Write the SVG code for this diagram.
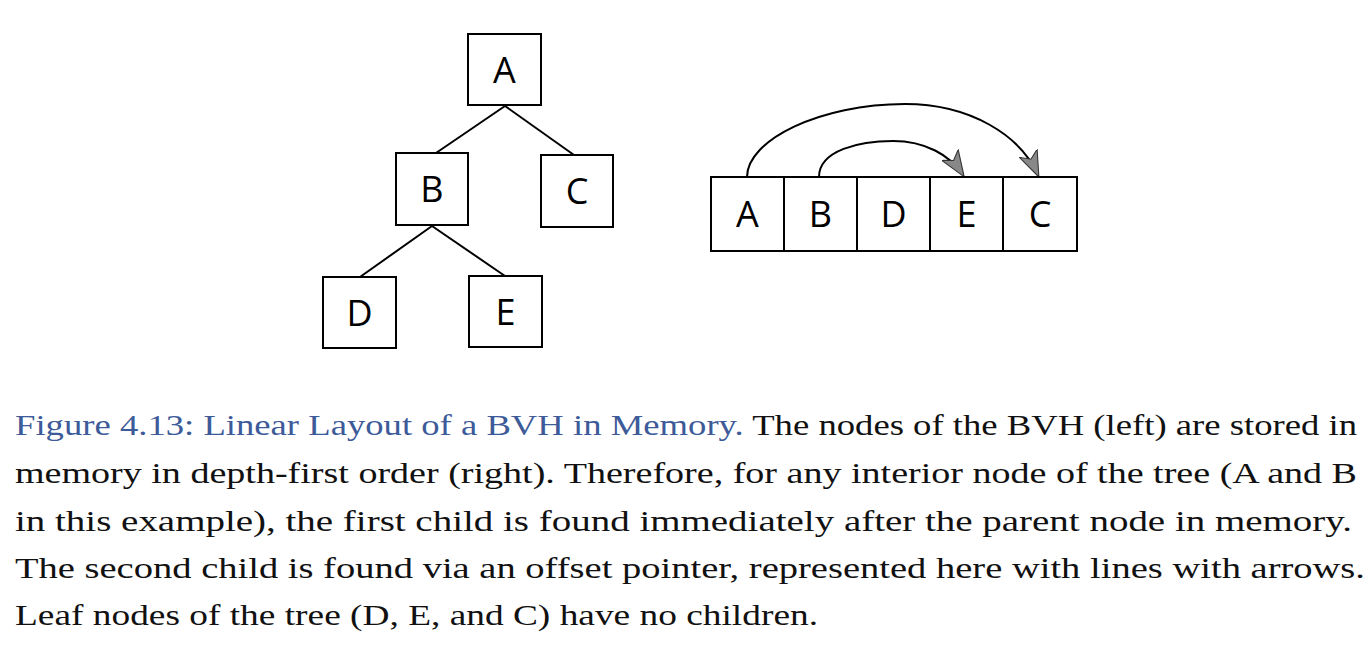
<svg xmlns="http://www.w3.org/2000/svg" width="1372" height="650" viewBox="0 0 1372 650">
<style>
.b{fill:#fff;stroke:#000;stroke-width:2}
.l{fill:none;stroke:#000;stroke-width:2}
.t{font-family:"Open Sans","DejaVu Sans",sans-serif;font-size:36px;text-anchor:middle}
.c{font-family:"Liberation Serif",serif;font-size:30px;fill:#111}
.f{fill:#3d5a99}
</style>
<defs>
<marker id="ah" viewBox="0 0 24 20" refX="22" refY="10" markerWidth="26" markerHeight="22" markerUnits="userSpaceOnUse" orient="auto">
<path d="M0,1 L24,10 L0,19 L6,10 Z" fill="#888" stroke="#333" stroke-width="1"/>
</marker>
</defs>
<rect width="1372" height="650" fill="#fff"/>
<g id="connectors">
<line class="l" x1="505" y1="106" x2="436" y2="153"/>
<line class="l" x1="505" y1="106" x2="574" y2="155"/>
<line class="l" x1="432" y1="226" x2="360" y2="277"/>
<line class="l" x1="432" y1="226" x2="505" y2="276"/>
<path class="l" d="M747,177 C747,140 820,104 905,104 C970,104 1020,135 1038,175" marker-end="url(#ah)"/>
<path class="l" d="M819,177 C819,150 860,141 893,141 C925,141 950,155 963,175" marker-end="url(#ah)"/>
</g>
<g id="nA"><rect class="b" x="468" y="34" width="73" height="71"/><text class="t" x="504.5" y="83">A</text></g>
<g id="nB"><rect class="b" x="396" y="153" width="72" height="72"/><text class="t" x="432" y="202">B</text></g>
<g id="nC"><rect class="b" x="541" y="155" width="72" height="72"/><text class="t" x="577" y="204">C</text></g>
<g id="nD"><rect class="b" x="323" y="277" width="73" height="71"/><text class="t" x="359.5" y="326">D</text></g>
<g id="nE"><rect class="b" x="469" y="276" width="73" height="71"/><text class="t" x="505.5" y="325">E</text></g>
<g id="array">
<rect class="b" x="711" y="177" width="366" height="74"/>
<line class="l" x1="784" y1="177" x2="784" y2="251"/>
<line class="l" x1="857" y1="177" x2="857" y2="251"/>
<line class="l" x1="930" y1="177" x2="930" y2="251"/>
<line class="l" x1="1003" y1="177" x2="1003" y2="251"/>
<text class="t" x="747.5" y="227">A</text>
<text class="t" x="820.5" y="227">B</text>
<text class="t" x="893.5" y="227">D</text>
<text class="t" x="966.5" y="227">E</text>
<text class="t" x="1040" y="227">C</text>
</g>
<g id="caption">
<text class="c" x="15" y="435" textLength="1342" lengthAdjust="spacingAndGlyphs"><tspan class="f">Figure 4.13: Linear Layout of a BVH in Memory.</tspan> The nodes of the BVH (left) are stored in</text>
<text class="c" x="15" y="483" textLength="1342" lengthAdjust="spacingAndGlyphs">memory in depth-first order (right). Therefore, for any interior node of the tree (A and B</text>
<text class="c" x="15" y="531" textLength="1337" lengthAdjust="spacingAndGlyphs">in this example), the first child is found immediately after the parent node in memory.</text>
<text class="c" x="15" y="578" textLength="1350" lengthAdjust="spacingAndGlyphs">The second child is found via an offset pointer, represented here with lines with arrows.</text>
<text class="c" x="15" y="625" textLength="803" lengthAdjust="spacingAndGlyphs">Leaf nodes of the tree (D, E, and C) have no children.</text>
</g>
</svg>
